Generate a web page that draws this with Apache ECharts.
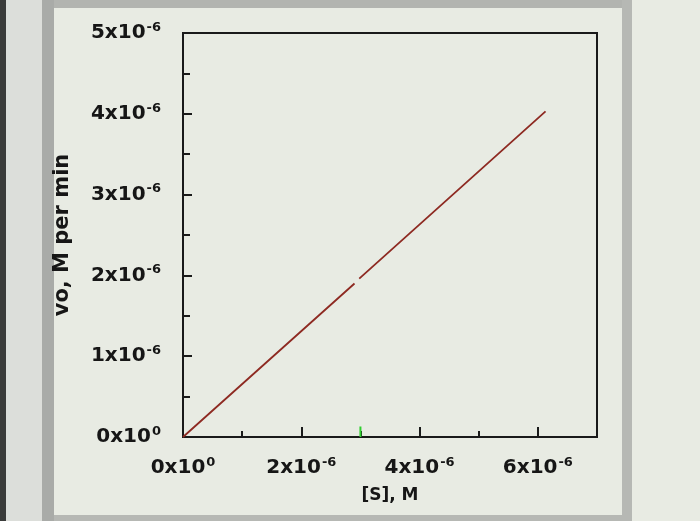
<!DOCTYPE html>
<html>
<head>
<meta charset="utf-8">
<script src="https://cdn.jsdelivr.net/npm/echarts@6/dist/echarts.min.js"></script>
<style>
  html, body { margin: 0; padding: 0; background: #e8ebe3; }
  #main { width: 700px; height: 521px; }
</style>
</head>
<body>
<div id="main"></div>
<script>
// substrate concentration [S] (M) and initial rate vo (M per min)
var sValues = [0, 2.9e-6, null, 2.98e-6, 6.13e-6];
var vValues = [0, 1.90e-6, null, 1.96e-6, 4.03e-6];

// tick positions
var xMajorTicks = [0, 2e-6, 4e-6, 6e-6];
var xMinorTicks = [1e-6, 3e-6, 5e-6];
// the green marker tick at [S] = 3e-6
var markerS = [3e-6, 3e-6];
var markerV = [0, 0.13e-6];

function pairs(xs, ys) {
    var res = [];
    for (var i = 0; i < xs.length; i++) {
        if (xs[i] === null) {
            res.push([null, null]);
        } else {
            res.push([xs[i], ys[i]]);
        }
    }
    return res;
}

function sciLabel(v) {
    if (Math.abs(v) < 1e-12) {
        return '{m|0x10}{e|0}';
    }
    var n = Math.round(v / 1e-6);
    return '{m|' + n + 'x10}{e|-6}';
}

var labelRich = {
    m: {
        fontSize: 20,
        fontWeight: 'bold',
        fontFamily: 'DejaVu Sans',
        color: '#161616',
        lineHeight: 22
    },
    e: {
        fontSize: 13,
        fontWeight: 'bold',
        fontFamily: 'DejaVu Sans',
        color: '#161616',
        verticalAlign: 'top',
        padding: [0, 0, 11, 1]
    }
};

var dom = document.getElementById('main');
var myChart = echarts.init(dom);
var option = {
    backgroundColor: '#e8ebe3',
    animation: false,
    graphic: [
        // photo frame: monitor edge and window borders
        { type: 'rect', shape: { x: 0, y: 0, width: 6, height: 521 }, style: { fill: '#3a3b3a' }, silent: true },
        { type: 'rect', shape: { x: 6, y: 0, width: 36, height: 521 }, style: { fill: '#dcdeda' }, silent: true },
        { type: 'rect', shape: { x: 42, y: 0, width: 12, height: 521 }, style: { fill: '#a9aba8' }, silent: true },
        { type: 'rect', shape: { x: 54, y: 0, width: 570, height: 8 }, style: { fill: '#b2b4b0' }, silent: true },
        { type: 'rect', shape: { x: 622, y: 0, width: 10, height: 521 }, style: { fill: '#b6b8b4' }, silent: true },
        { type: 'rect', shape: { x: 54, y: 515, width: 570, height: 6 }, style: { fill: '#b6b8b4' }, silent: true }
    ],
    grid: {
        left: 183,
        right: 103,
        top: 33,
        bottom: 84,
        show: true,
        borderColor: '#1a1a1a',
        borderWidth: 2,
        backgroundColor: 'transparent',
        outerBoundsMode: 'none'
    },
    xAxis: [
        {
            type: 'value',
            min: 0,
            max: 7e-6,
            name: '[S], M',
            nameLocation: 'middle',
            nameGap: 50,
            nameTextStyle: {
                fontSize: 17,
                fontWeight: 'bold',
                fontFamily: 'DejaVu Sans',
                color: '#161616'
            },
            axisLine: { show: true, lineStyle: { color: '#1a1a1a', width: 2 } },
            axisTick: {
                show: true,
                inside: true,
                length: 10,
                lineStyle: { color: '#1a1a1a', width: 2 },
                customValues: xMajorTicks
            },
            axisLabel: {
                margin: 19,
                customValues: xMajorTicks,
                formatter: sciLabel,
                rich: labelRich
            },
            splitLine: { show: false }
        },
        {
            type: 'value',
            min: 0,
            max: 7e-6,
            position: 'bottom',
            axisLine: { show: false },
            axisTick: {
                show: true,
                inside: true,
                length: 6,
                lineStyle: { color: '#1a1a1a', width: 2 },
                customValues: xMinorTicks
            },
            axisLabel: { show: false },
            splitLine: { show: false }
        }
    ],
    yAxis: {
        type: 'value',
        min: 0,
        max: 5e-6,
        interval: 1e-6,
        name: 'vo, M per min',
        nameLocation: 'middle',
        nameGap: 110,
        nameTextStyle: {
            fontSize: 21,
            fontWeight: 'bold',
            fontFamily: 'DejaVu Sans',
            color: '#161616'
        },
        axisLine: { show: true, lineStyle: { color: '#1a1a1a', width: 2 } },
        axisTick: {
            show: true,
            inside: true,
            length: 9,
            lineStyle: { color: '#1a1a1a', width: 2 }
        },
        minorTick: {
            show: true,
            splitNumber: 2,
            length: 7,
            lineStyle: { color: '#1a1a1a', width: 2 }
        },
        axisLabel: {
            margin: 22,
            formatter: sciLabel,
            rich: labelRich
        },
        splitLine: { show: false }
    },
    series: [
        {
            name: 'vo',
            type: 'line',
            data: pairs(sValues, vValues),
            showSymbol: false,
            connectNulls: false,
            lineStyle: { color: '#8e2a22', width: 1.8 },
            z: 3
        },
        {
            name: 'marker',
            type: 'line',
            data: pairs(markerS, markerV),
            showSymbol: false,
            lineStyle: { color: '#2fcf2f', width: 2 },
            z: 4
        }
    ]
};

myChart.setOption(option, true);
</script>
</body>
</html>
